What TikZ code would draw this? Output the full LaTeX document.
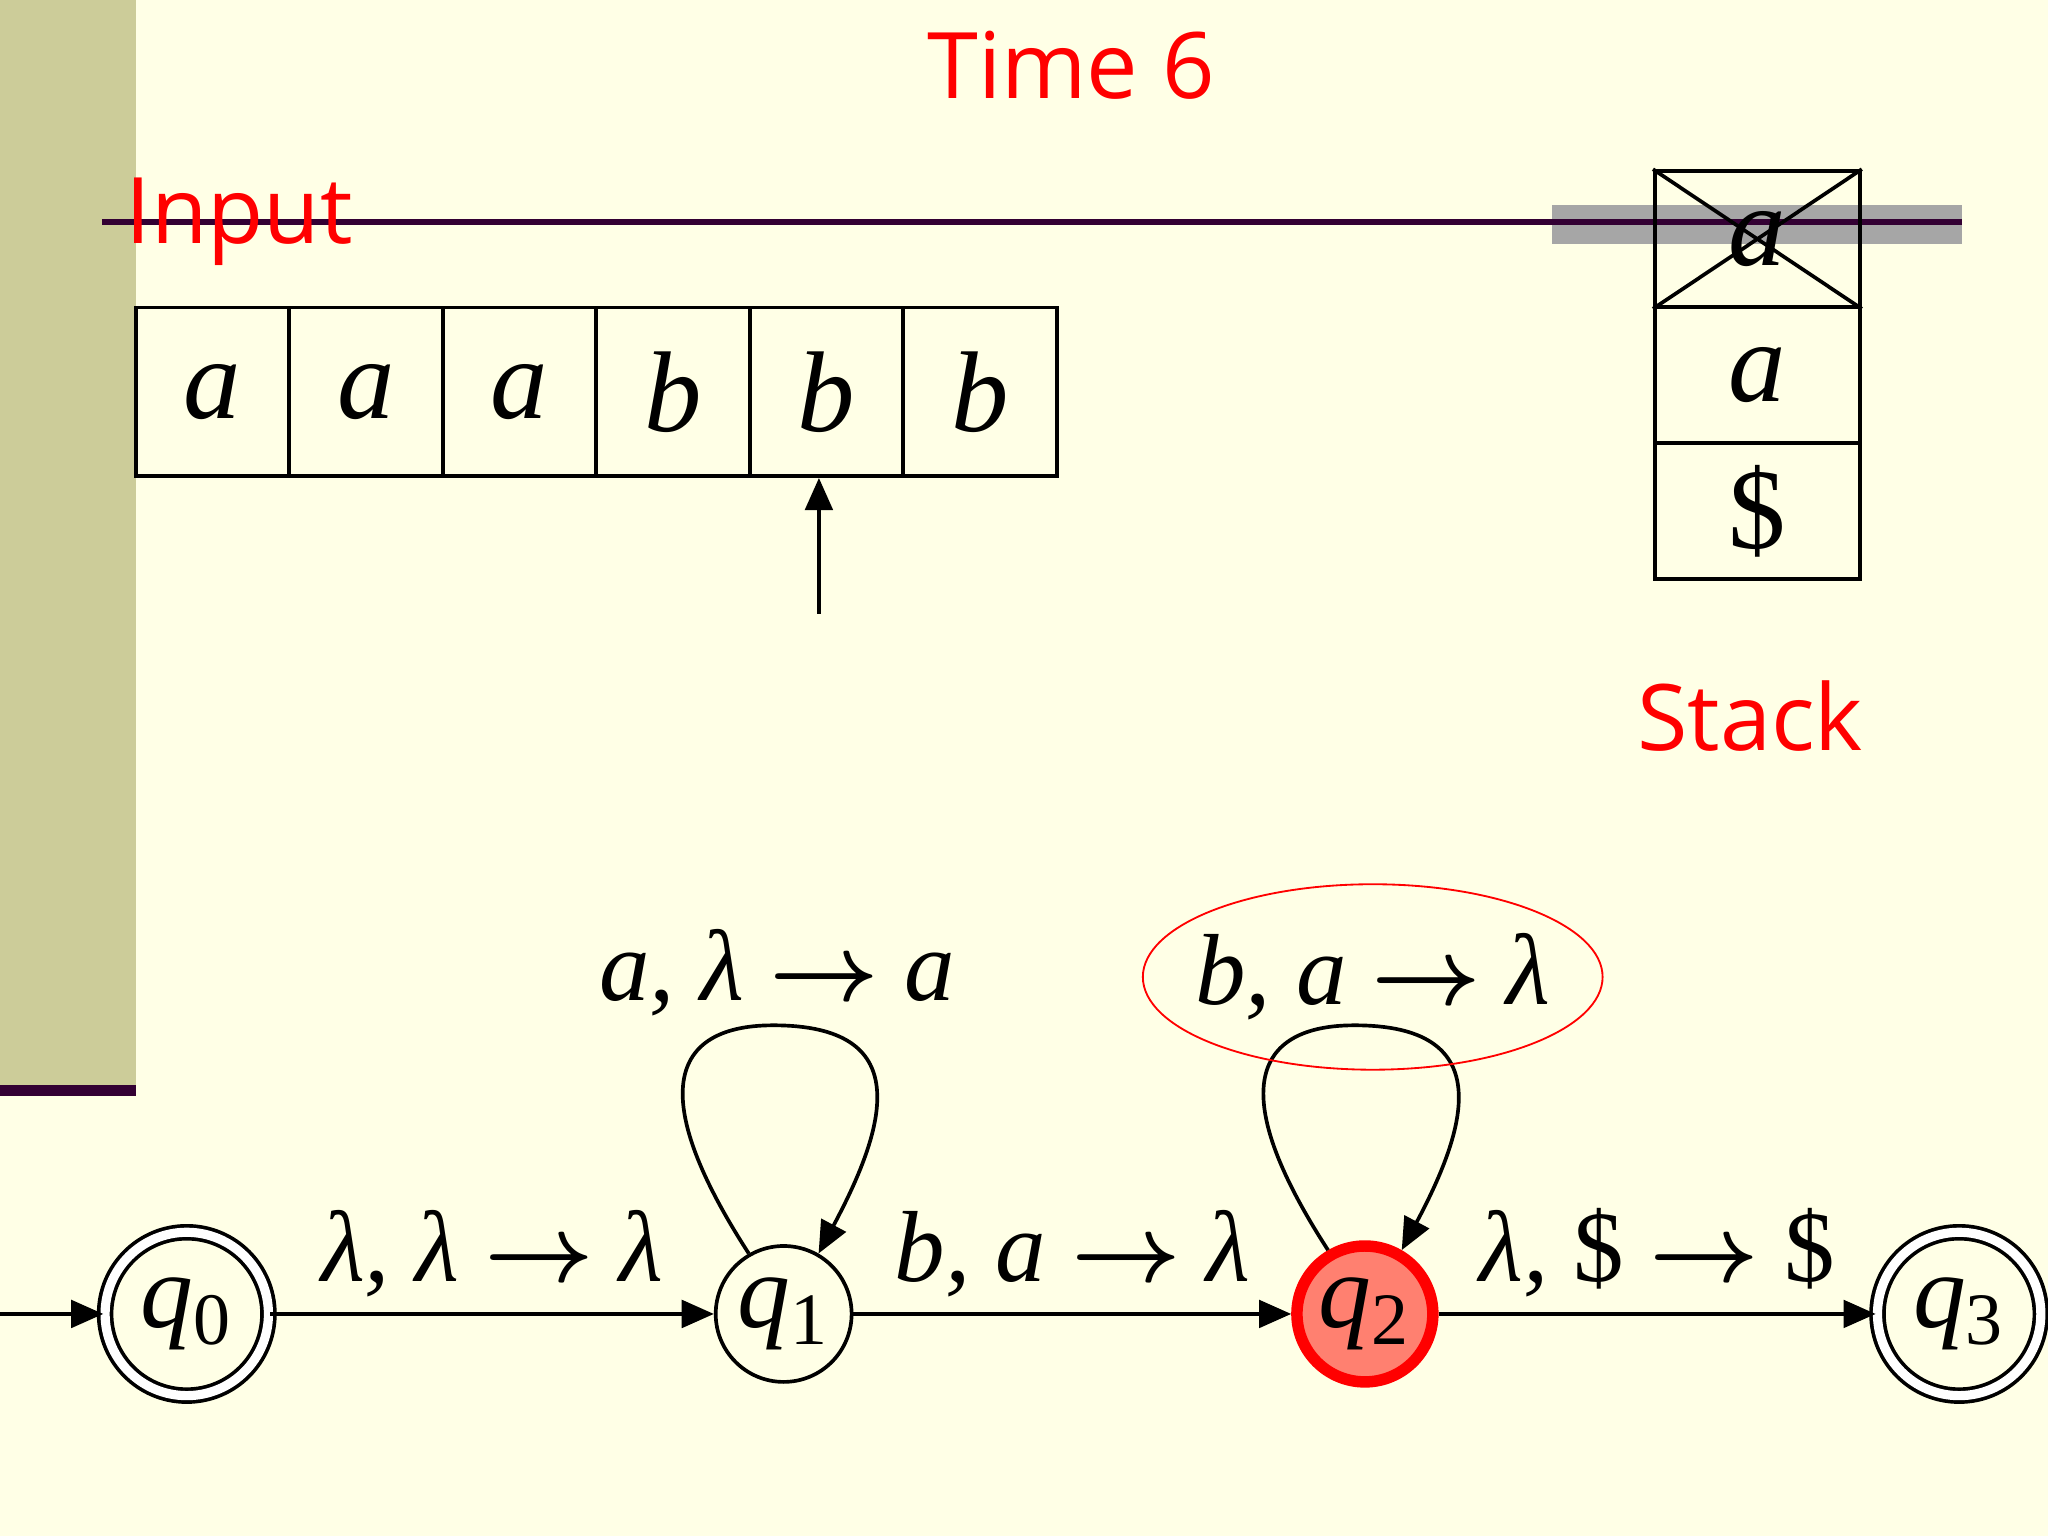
\documentclass[tikz,border=0pt]{standalone}
\usepackage{amsmath}
\usepackage{fontspec}
\setmainfont{Liberation Serif}
\newfontfamily\headfont{Open Sans}
\usetikzlibrary{positioning,arrows.meta}
\definecolor{bgyellow}{RGB}{255,255,230}
\definecolor{barolive}{RGB}{204,204,153}
\definecolor{darkplum}{RGB}{51,0,51}
\definecolor{statered}{RGB}{255,128,112}
\begin{document}
\begin{tikzpicture}[x=0.01cm,y=-0.01cm,
        title/.style={text=red, font=\headfont\fontsize{20}{20}\selectfont},
        cell/.style={draw, line width=0.8pt, minimum width=1.175cm, minimum height=1.29cm, inner sep=0pt, font=\itshape\fontsize{25}{25}\selectfont},
        scell/.style={draw, line width=0.8pt, minimum width=1.57cm, minimum height=1.04cm, inner sep=0pt, font=\itshape\fontsize{25}{25}\selectfont},
        state/.style={circle, draw, line width=0.8pt, minimum size=1.04cm, inner sep=0pt, font=\itshape\fontsize{23}{23}\selectfont},
        accept/.style={state, double, double distance=2pt, minimum size=1.25cm},
        lbl/.style={font=\itshape\fontsize{22}{22}\selectfont},
        edge/.style={line width=0.8pt, -{Triangle[length=7pt,width=6pt]}}
        ]
        \useasboundingbox (0,0) rectangle (1568,1176);
        \fill [bgyellow] (0,0) rectangle (1568,1176);
        \fill [barolive] (0,0) rectangle (104,835);
        \draw [darkplum, line width=2.5pt] (0,835) -- (104,835);
        \fill [gray!70] (1188,157) rectangle (1502,187);
        \draw [darkplum, line width=1.5pt] (78,170) -- (1502,170);
        \node [title] (time) at (820,50) {Time 6};
        \node [title] (input) at (183,170) {Input};
        \node [title] (stack) at (1340,548) {Stack};
        % input tape
        \foreach \s [count=\i] in {a,a,a,b,b,b}
          \node [cell] (t\i) at (104+117.5*\i-58.75,300) {\s};
        \coordinate (head) at (627,470);
        \draw [edge] (head) -- (head |- t5.south);
        % stack
        \node [scell] (s1) at (1345.5,183) {a};
        \node [scell, below=-0.8pt of s1] (s2) {a};
        \node [scell, below=-0.8pt of s2] (s3) {\upshape\$};
        \draw [line width=0.8pt] (s1.north west) -- (s1.south east) (s1.north east) -- (s1.south west);
        % automaton
        \node [accept] (q0) at (143,1006) {q\textsubscript{\upshape 0}};
        \node [state] (q1) at (600,1006) {q\textsubscript{\upshape 1}};
        \node [state, fill=statered, draw=red, line width=2.5pt] (q2) at (1045,1006) {q\textsubscript{\upshape 2}};
        \node [accept] (q3) at (1500,1006) {q\textsubscript{\upshape 3}};
        \coordinate (start) at (0,1006);
        \draw [edge] (start) -- (q0);
        \draw [edge] (q0) -- node [lbl, above] {λ, λ $\boldsymbol{\rightarrow}$ λ} (q1);
        \draw [edge] (q1) -- node [lbl, above] {b, a $\boldsymbol{\rightarrow}$ λ} (q2);
        \draw [edge] (q2) -- node [lbl, above] {λ, {\upshape\$} $\boldsymbol{\rightarrow}$ {\upshape\$}} (q3);
        \draw [edge] (q1.120) .. controls (470,800) and (550,785) .. (592,785) .. controls (700,785) and (680,860) .. (q1.60);
        \node [lbl] (l1) at (595,745) {a, λ $\boldsymbol{\rightarrow}$ a};
        \draw [edge] (q2.120) .. controls (915,800) and (995,785) .. (1037,785) .. controls (1145,785) and (1125,860) .. (q2.60);
        \node [lbl] (l2) at (1051,748) {b, a $\boldsymbol{\rightarrow}$ λ};
        \draw [red] (l2) ellipse [x radius=176, y radius=71];
\end{tikzpicture}
\end{document}
